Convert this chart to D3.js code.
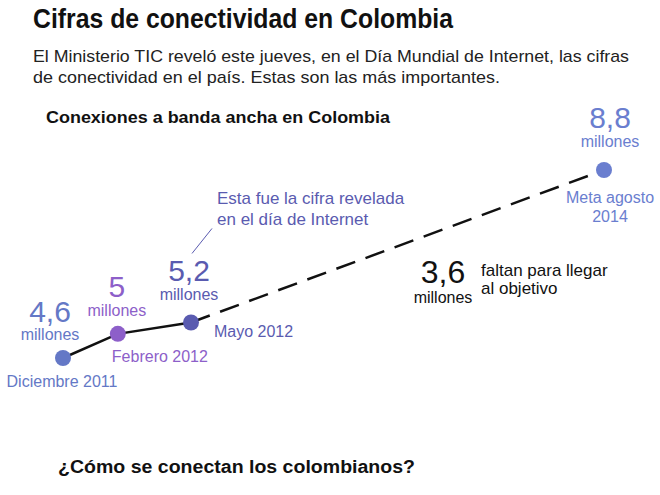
<!DOCTYPE html>
<html>
<head>
<meta charset="utf-8">
<script src="https://cdn.jsdelivr.net/npm/d3@7"></script>
<style>
  body { margin: 0; background: #fff; }
  text { font-family: "Liberation Sans", Arial, sans-serif; }
</style>
</head>
<body>
<div id="chart"></div>
<script>
// data
const fechas = ["Diciembre 2011", "Febrero 2012", "Mayo 2012", "Meta agosto 2014"];
const mesesDesdeDic2011 = [0, 2, 5, 32];
const conexiones = [4.6, 5, 5.2, 8.8];
const etiquetasValor = ["4,6", "5", "5,2", "8,8"];
const faltan = "3,6";

// styles
const colores = ["#6478c6", "#8d5fc9", "#5a5bb0", "#6a7ecf"];

const width = 660, height = 495;

const svg = d3.select("#chart").append("svg")
  .attr("width", width)
  .attr("height", height);

// the chart is not drawn to scale in time, so a log scale spreads the early months
const origen = 19;
const x = d3.scaleLog().domain([origen, origen + 32]).range([63, 604]);
const y = d3.scaleLog().domain([4.6, 8.8]).range([358, 170]);

const puntos = conexiones.map((v, i) => ({
  v, mes: mesesDesdeDic2011[i], fecha: fechas[i], etiqueta: etiquetasValor[i], color: colores[i]
}));
const px = d => x(d.mes + origen);
const py = d => y(d.v);

function texto(t, xx, yy, size, opts = {}) {
  const el = svg.append("text")
    .attr("x", xx).attr("y", yy)
    .attr("font-size", size)
    .attr("fill", opts.fill || "#111")
    .attr("font-weight", opts.bold ? "bold" : "normal")
    .attr("text-anchor", opts.anchor || "start")
    .text(t);
  if (opts.len) el.attr("textLength", opts.len).attr("lengthAdjust", "spacingAndGlyphs");
  return el;
}

// titles
texto("Cifras de conectividad en Colombia", 33, 28, 28, { bold: true, len: 420 });
texto("El Ministerio TIC reveló este jueves, en el Día Mundial de Internet, las cifras", 33, 62, 17, { fill: "#222", len: 596 });
texto("de conectividad en el país. Estas son las más importantes.", 33, 83, 17, { fill: "#222", len: 467 });
texto("Conexiones a banda ancha en Colombia", 46, 123, 16, { bold: true, len: 344 });
texto("¿Cómo se conectan los colombianos?", 58, 473, 18, { bold: true, len: 357 });

// lines
const line = d3.line().x(px).y(py);
svg.append("path")
  .datum(puntos.slice(0, 3))
  .attr("d", line)
  .attr("fill", "none")
  .attr("stroke", "#111")
  .attr("stroke-width", 2.5);

svg.append("path")
  .datum(puntos.slice(2))
  .attr("d", line)
  .attr("fill", "none")
  .attr("stroke", "#111")
  .attr("stroke-width", 2.5)
  .attr("stroke-dasharray", "20,11");

// points
svg.selectAll(".punto")
  .data(puntos)
  .enter()
  .append("circle")
  .attr("class", "punto")
  .attr("cx", px)
  .attr("cy", py)
  .attr("r", 8)
  .attr("fill", d => d.color);

// label offsets relative to each point
const rotulos = [
  { vx: -13, vy: -36, my: -18, fx: -1, fy: 29, fa: "middle" },
  { vx: -1, vy: -37, my: -18, fx: -6, fy: 28, fa: "start" },
  { vx: -2, vy: -41, my: -22, fx: 23, fy: 15, fa: "start" },
  { vx: 6, vy: -42, my: -23, fx: 6, fy: 33, fa: "middle" }
];

puntos.forEach((d, i) => {
  const r = rotulos[i];
  const cx = px(d), cy = py(d);
  texto(d.etiqueta, cx + r.vx, cy + r.vy, 30, { fill: d.color, anchor: "middle" });
  texto("millones", cx + r.vx, cy + r.my, 16, { fill: d.color, anchor: "middle" });
  if (i === 3) {
    texto("Meta agosto", cx + r.fx, cy + r.fy, 16, { fill: d.color, anchor: "middle" });
    texto("2014", cx + r.fx, cy + r.fy + 19, 16, { fill: d.color, anchor: "middle" });
  } else {
    texto(d.fecha, cx + r.fx, cy + r.fy, 16, { fill: d.color, anchor: r.fa });
  }
});

// annotation for the figure revealed on Internet day
const may = puntos[2];
const ax = px(may), ay = py(may);
svg.append("line")
  .attr("x1", ax + 1).attr("y1", ay - 69)
  .attr("x2", ax + 21).attr("y2", ay - 94)
  .attr("stroke", "#5a5bb0")
  .attr("stroke-width", 1);
texto("Esta fue la cifra revelada", ax + 26, ay - 118, 17, { fill: "#5a5bb0" });
texto("en el día de Internet", ax + 26, ay - 97, 17, { fill: "#5a5bb0" });

// gap to the goal
texto(faltan, 443, 283, 32, { anchor: "middle" });
texto("millones", 443, 303, 16, { anchor: "middle" });
texto("faltan para llegar", 481, 276, 17);
texto("al objetivo", 481, 294, 17);
</script>
</body>
</html>
